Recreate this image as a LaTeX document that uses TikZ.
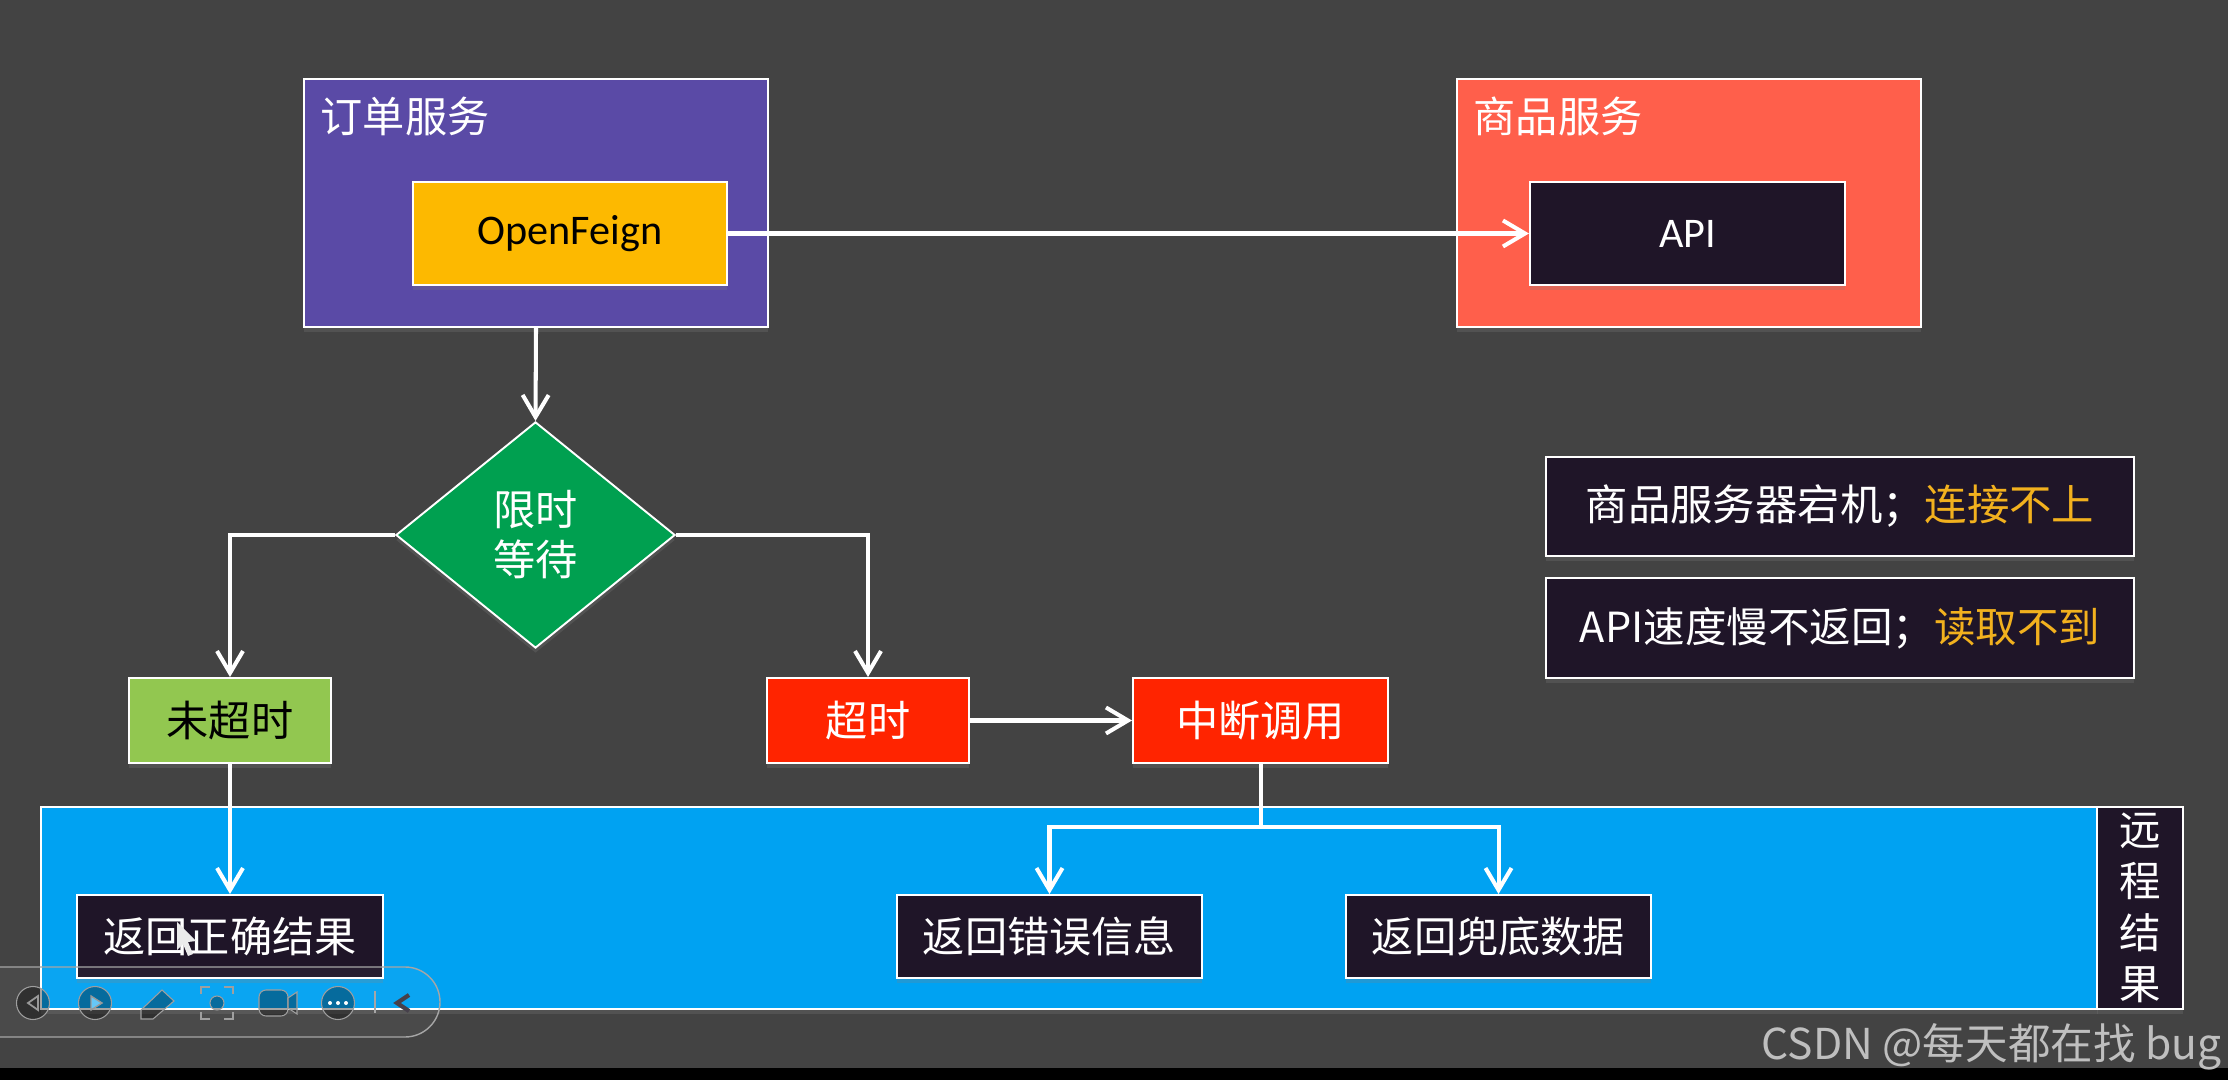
\documentclass[tikz,border=0pt]{standalone}
\usepackage{fontspec}
\setmainfont{Noto Sans CJK SC}
\newfontfamily\latinfont{Carlito}
\usetikzlibrary{arrows.meta,shapes.geometric,shadows}
\definecolor{slidebg}{HTML}{434343}
\definecolor{orderpurple}{HTML}{5A4AA6}
\definecolor{goodsred}{HTML}{FF5F4B}
\definecolor{feigngold}{HTML}{FDB900}
\definecolor{inkdark}{HTML}{1F1528}
\definecolor{waitgreen}{HTML}{00A050}
\definecolor{okgreen}{HTML}{92C750}
\definecolor{stopred}{HTML}{FF2400}
\definecolor{resultblue}{HTML}{00A2F2}
\definecolor{noteyellow}{HTML}{F2B11E}
\tikzset{
	softshadow/.style = {drop shadow = {shadow xshift = 0cm, shadow yshift = -0.05cm, opacity = 0.25}},
	box/.style = {draw = white, line width = 0.55pt, inner sep = 0pt, text = white, font = \fontsize{12}{14.5}\selectfont, align = center, softshadow},
	darkbox/.style = {box, fill = inkdark},
	title/.style = {anchor = west, inner sep = 0pt, text = white, font = \fontsize{12}{14.5}\selectfont},
	link/.style = {draw = white, line width = 1.15pt, -{Straight Barb[length = 2.2mm, width = 2.6mm, line width = 1.15pt]}},
	tool/.style = {draw = gray!75, line width = 0.3pt, fill = black, fill opacity = 0.35}
}
\begin{document}
\begin{tikzpicture}[x = 0.01cm, y = -0.01cm]
		\useasboundingbox (0,0) rectangle (2228,1080);
		\fill[slidebg] (0,0) rectangle (2228,1080);
		\fill[black] (0,1068) rectangle (2228,1080);

		\node (order) at (536,203)
		[box, fill = orderpurple, minimum width = 4.64cm, minimum height = 2.48cm] {};
		\node (ordertitle) at (320,116) [title] {订单服务};
		\node (feign) at (570,233.5)
		[box, fill = feigngold, text = black, minimum width = 3.14cm, minimum height = 1.03cm, font = \latinfont\fontsize{12}{14}\selectfont]
		{OpenFeign};

		\node (goods) at (1689,203)
		[box, fill = goodsred, minimum width = 4.64cm, minimum height = 2.48cm] {};
		\node (goodstitle) at (1473,116) [title] {商品服务};
		\node (api) at (1687.5,233.5)
		[darkbox, minimum width = 3.15cm, minimum height = 1.03cm, font = \latinfont\fontsize{12}{14}\selectfont]
		{API};

		\node (wait) at (535.5,535)
		[box, diamond, aspect = 1.235, fill = waitgreen, minimum width = 2.79cm, minimum height = 2.26cm, font = \fontsize{12}{14.2}\selectfont]
		{限时\\等待};

		\node (intime) at (230,720.5)
		[box, fill = okgreen, text = black, minimum width = 2.02cm, minimum height = 0.85cm]
		{未超时};
		\node (timeout) at (868,720.5)
		[box, fill = stopred, minimum width = 2.02cm, minimum height = 0.85cm]
		{超时};
		\node (abort) at (1260.5,720.5)
		[box, fill = stopred, minimum width = 2.55cm, minimum height = 0.85cm]
		{中断调用};

		\node (note1) at (1840,506.5)
		[darkbox, minimum width = 5.88cm, minimum height = 0.99cm, font = \fontsize{12.05}{14}\selectfont]
		{商品服务器宕机；{\color{noteyellow}连接不上}};
		\node (note2) at (1840,628)
		[darkbox, minimum width = 5.88cm, minimum height = 1cm, font = \fontsize{11.8}{14}\selectfont]
		{API速度慢不返回；{\color{noteyellow}读取不到}};

		\node (results) at (1069.5,908)
		[box, fill = resultblue, minimum width = 20.55cm, minimum height = 2.02cm] {};
		\node (resultside) at (2140,908)
		[darkbox, minimum width = 0.86cm, minimum height = 2.02cm, font = \fontsize{11.8}{14.6}\selectfont]
		{远\\程\\结\\果};

		\node (right) at (230,936.5)
		[darkbox, minimum width = 3.06cm, minimum height = 0.83cm]
		{返回正确结果};
		\node (wrong) at (1049.5,936.5)
		[darkbox, minimum width = 3.05cm, minimum height = 0.83cm]
		{返回错误信息};
		\node (backup) at (1498.5,936.5)
		[darkbox, minimum width = 3.05cm, minimum height = 0.83cm]
		{返回兜底数据};

		\coordinate (fork) at (1260.5,827);
		\draw[link] (feign.east) -- (api.west);
		\draw[link] (order.south) -- (wait.north);
		\draw[link] (wait.west) -| (intime.north);
		\draw[link] (wait.east) -| (timeout.north);
		\draw[link] (intime.south) -- (right.north);
		\draw[link] (timeout.east) -- (abort.west);
		\draw[link] (abort.south) -- (fork) -| (wrong.north);
		\draw[link] (fork) -| (backup.north);

		\node (mark) at (2222,1047)
		[anchor = east, inner sep = 0pt, text = white!75!black, font = \fontsize{12.1}{14}\selectfont]
		{CSDN @每天都在找 bug};

		\draw[draw = gray!70, line width = 0.4pt, fill = white, fill opacity = 0.04] (-20,967) -- (405,967) arc (-90:90:35) -- (-20,1037);
		\draw[tool] (33,1003) circle (16.5);
		\draw[draw = gray!80, line width = 0.5pt] (38,996) -- (28,1003) -- (38,1010) -- cycle;
		\draw[tool] (95,1003) circle (16.5);
		\draw[draw = gray!80, fill = resultblue!60, line width = 0.4pt] (91,996) -- (102,1003) -- (91,1010) -- cycle;
		\draw[tool] (141,1010) -- (162,990) -- (174,1001) -- (153,1019) -- (141,1019) -- cycle;
		\draw[tool] (217,1003) circle (7);
		\draw[draw = gray!75, line width = 0.7pt] (201,994) |- (210,987) (224,987) -| (233,994) (233,1012) |- (224,1019) (210,1019) -| (201,1012);
		\draw[tool, rounded corners = 2pt] (259,990) rectangle (288,1016);
		\draw[tool] (288,998) -- (297,992) -- (297,1014) -- (288,1008) -- cycle;
		\draw[tool] (338,1003) circle (16.5);
		\foreach \dotx in {330,338,346}
			\fill[white!75] (\dotx,1003) circle (2);
		\draw[draw = gray!70, line width = 0.3pt] (375,991) -- (375,1013);
		\draw[draw = inkdark!60!gray, line width = 1.2pt] (409,995) -- (397,1003) -- (409,1011);

		\fill[white!92!black] (177,922) -- (177,950) -- (183,944) -- (188,956) -- (193,954) -- (188,942) -- (196,941) -- cycle;
\end{tikzpicture}
\end{document}
